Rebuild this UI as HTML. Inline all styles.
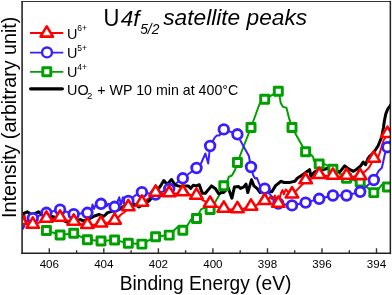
<!DOCTYPE html><html><head><meta charset="utf-8"><style>html,body{margin:0;padding:0;background:#fff;overflow:hidden}svg{display:block;will-change:transform}text{font-family:"Liberation Sans",sans-serif}</style></head><body>
<svg width="392" height="295" viewBox="0 0 392 295">
<defs><clipPath id="c"><rect x="22" y="1.4" width="368.3" height="252.2"/></clipPath></defs>
<g clip-path="url(#c)">
<polyline points="46.4,230.4 60.1,235.0 73.7,233.3 87.4,239.8 101.0,240.9 114.6,239.9 128.3,243.3 141.9,244.1 155.6,236.7 169.2,235.1 177.3,227.3 182.8,230.2 186.3,227.3 191.2,219.2 196.5,218.4 201.0,209.4 204.3,207.8 210.1,209.4 215.7,201.2 219.0,195.5 220.9,191.4 223.8,185.8 227.6,180.4 228.9,176.7 231.9,175.5 235.0,170.0 237.4,162.5 251.0,127.5 259.5,104.0 264.7,99.3 278.3,91.3 279.7,96.3 280.7,102.9 283.1,106.9 286.4,107.8 288.9,117.6 292.0,127.5 305.6,151.7 311.4,154.9 313.3,157.3 313.9,161.0 319.2,164.0 323.0,163.5 325.5,164.7 328.0,165.8 332.9,169.3 346.5,178.3 360.2,182.0 373.8,192.6 377.0,191.2 381.9,184.7 387.4,187.0 401.1,176.0" fill="none" stroke="#00A000" stroke-width="2.0" stroke-linejoin="round"/>
<polyline points="19.2,225.0 32.8,218.2 46.4,212.8 60.1,209.6 73.7,214.2 87.4,212.8 91.5,210.0 92.5,204.5 94.0,209.0 95.5,205.0 101.0,203.8 106.4,206.3 108.2,203.8 110.6,204.4 114.6,206.8 117.4,202.2 119.2,197.3 121.0,204.7 122.9,197.3 124.7,202.2 127.2,199.8 128.3,201.0 136.0,194.9 141.9,192.2 155.6,194.5 169.2,188.8 182.8,178.3 196.5,168.0 201.0,163.5 205.4,153.5 208.2,163.5 210.1,146.0 214.5,137.9 216.9,135.4 219.5,135.4 223.8,129.4 237.4,134.3 239.8,139.5 244.7,148.5 248.8,155.8 251.0,167.0 253.3,175.5 255.2,178.6 257.0,178.0 258.8,182.9 261.3,188.4 264.7,188.6 278.3,203.5 292.0,205.4 305.6,202.6 319.2,198.8 332.9,195.5 346.5,195.5 360.2,191.8 373.8,180.0 378.6,171.0 381.9,167.8 385.1,153.0 387.4,147.2 401.1,118.0" fill="none" stroke="#3A1EFF" stroke-width="2.0" stroke-linejoin="round"/>
<polyline points="19.2,221.6 24.0,213.0 26.5,224.0 32.8,225.4 46.4,219.3 60.1,218.4 73.7,222.3 87.4,225.6 101.0,224.1 114.6,221.3 121.0,214.5 124.7,212.0 128.3,207.8 141.9,203.3 155.6,193.4 169.2,194.0 182.8,193.0 196.5,196.3 210.1,204.3 223.8,209.3 237.4,209.8 251.0,207.3 264.7,201.6 268.0,201.0 270.0,197.0 272.5,199.5 275.0,195.5 278.3,204.4 281.0,193.0 282.6,190.1 283.8,194.4 285.7,189.5 287.5,191.3 292.0,195.1 305.6,181.0 319.2,175.6 332.9,176.3 346.5,176.5 360.2,176.7 364.3,172.0 368.0,168.8 370.4,165.4 372.2,161.9 373.8,159.3 377.6,157.7 379.4,153.9 383.6,140.3 387.4,134.6" fill="none" stroke="#FF0000" stroke-width="2.0" stroke-linejoin="round"/>
<polyline points="19,213 22,214 27.3,211.8 32,215 38.4,211.8 44,216 50,215.6 53.1,216.8 60,219 67.1,222 69.6,222.5 80.6,219.5 83,221 88,219.5 95.3,215.7 99,214.5 103.9,216.3 107.6,212.6 112.5,211.4 118.6,209.6 124.7,205.9 129.6,204.7 134,204 139,207 146,203 150,200 155,193 160.5,186 163.8,180.5 167.2,184.5 171.5,179.5 175.2,185.1 180.1,186.4 183.3,185.9 188.2,185.9 190.7,188.4 193.1,185.3 196.2,185.9 199.3,184.7 202.3,193.3 205.4,193.3 211.5,185.9 215.2,188.4 218.8,193.9 221.3,192.6 223.3,192.6 228.2,187.7 231.9,198.2 234.4,187.1 238.6,186.5 240.5,188.4 243.5,187.1 246,184.1 247.8,192.6 251.5,179.8 253.9,185.9 257,188.4 260.1,192.6 264,190 271.9,191.7 275.6,185.6 281.1,181.3 284.2,182.5 290,182.4 294.9,181.2 297.3,178.2 302.2,175.1 307.1,171.4 309.6,169.6 310.8,176.3 314.5,172 319.4,170.2 325.5,169 331.3,167 337.5,171.3 339.9,171.9 344.8,165.8 348.5,168.9 353.4,171.3 356.4,169.5 360.7,165.8 363.2,162.1 365.6,164.6 368.1,158.4 369.9,156 372.8,153.3 374.7,151 378,146 381.7,137 383.5,127.2 384.4,120.8 385.8,113.9 387.7,109.2 390.1,105.9 392,103" fill="none" stroke="#000" stroke-width="3" stroke-linejoin="round"/>
<rect x="42.4" y="226.4" width="8.0" height="8.0" fill="#fff" stroke="#00A000" stroke-width="2.95" stroke-linejoin="round"/>
<rect x="56.1" y="231.0" width="8.0" height="8.0" fill="#fff" stroke="#00A000" stroke-width="2.95" stroke-linejoin="round"/>
<rect x="69.7" y="229.3" width="8.0" height="8.0" fill="#fff" stroke="#00A000" stroke-width="2.95" stroke-linejoin="round"/>
<rect x="83.4" y="235.8" width="8.0" height="8.0" fill="#fff" stroke="#00A000" stroke-width="2.95" stroke-linejoin="round"/>
<rect x="97.0" y="236.9" width="8.0" height="8.0" fill="#fff" stroke="#00A000" stroke-width="2.95" stroke-linejoin="round"/>
<rect x="110.6" y="235.9" width="8.0" height="8.0" fill="#fff" stroke="#00A000" stroke-width="2.95" stroke-linejoin="round"/>
<rect x="124.3" y="239.3" width="8.0" height="8.0" fill="#fff" stroke="#00A000" stroke-width="2.95" stroke-linejoin="round"/>
<rect x="137.9" y="240.1" width="8.0" height="8.0" fill="#fff" stroke="#00A000" stroke-width="2.95" stroke-linejoin="round"/>
<rect x="151.6" y="232.7" width="8.0" height="8.0" fill="#fff" stroke="#00A000" stroke-width="2.95" stroke-linejoin="round"/>
<rect x="165.2" y="231.1" width="8.0" height="8.0" fill="#fff" stroke="#00A000" stroke-width="2.95" stroke-linejoin="round"/>
<rect x="178.8" y="226.2" width="8.0" height="8.0" fill="#fff" stroke="#00A000" stroke-width="2.95" stroke-linejoin="round"/>
<rect x="192.5" y="214.4" width="8.0" height="8.0" fill="#fff" stroke="#00A000" stroke-width="2.95" stroke-linejoin="round"/>
<rect x="206.1" y="205.4" width="8.0" height="8.0" fill="#fff" stroke="#00A000" stroke-width="2.95" stroke-linejoin="round"/>
<rect x="219.8" y="181.8" width="8.0" height="8.0" fill="#fff" stroke="#00A000" stroke-width="2.95" stroke-linejoin="round"/>
<rect x="233.4" y="158.5" width="8.0" height="8.0" fill="#fff" stroke="#00A000" stroke-width="2.95" stroke-linejoin="round"/>
<rect x="247.0" y="123.5" width="8.0" height="8.0" fill="#fff" stroke="#00A000" stroke-width="2.95" stroke-linejoin="round"/>
<rect x="260.7" y="95.3" width="8.0" height="8.0" fill="#fff" stroke="#00A000" stroke-width="2.95" stroke-linejoin="round"/>
<rect x="274.3" y="87.3" width="8.0" height="8.0" fill="#fff" stroke="#00A000" stroke-width="2.95" stroke-linejoin="round"/>
<rect x="288.0" y="123.5" width="8.0" height="8.0" fill="#fff" stroke="#00A000" stroke-width="2.95" stroke-linejoin="round"/>
<rect x="301.6" y="147.7" width="8.0" height="8.0" fill="#fff" stroke="#00A000" stroke-width="2.95" stroke-linejoin="round"/>
<rect x="315.2" y="160.0" width="8.0" height="8.0" fill="#fff" stroke="#00A000" stroke-width="2.95" stroke-linejoin="round"/>
<rect x="328.9" y="165.3" width="8.0" height="8.0" fill="#fff" stroke="#00A000" stroke-width="2.95" stroke-linejoin="round"/>
<rect x="342.5" y="174.3" width="8.0" height="8.0" fill="#fff" stroke="#00A000" stroke-width="2.95" stroke-linejoin="round"/>
<rect x="356.2" y="178.0" width="8.0" height="8.0" fill="#fff" stroke="#00A000" stroke-width="2.95" stroke-linejoin="round"/>
<rect x="369.8" y="188.6" width="8.0" height="8.0" fill="#fff" stroke="#00A000" stroke-width="2.95" stroke-linejoin="round"/>
<rect x="383.4" y="183.0" width="8.0" height="8.0" fill="#fff" stroke="#00A000" stroke-width="2.95" stroke-linejoin="round"/>
<rect x="397.1" y="172.0" width="8.0" height="8.0" fill="#fff" stroke="#00A000" stroke-width="2.95" stroke-linejoin="round"/>
<circle cx="19.2" cy="225.0" r="4.8" fill="#fff" stroke="#3A1EFF" stroke-width="2.8"/>
<circle cx="32.8" cy="218.2" r="4.8" fill="#fff" stroke="#3A1EFF" stroke-width="2.8"/>
<circle cx="46.4" cy="212.8" r="4.8" fill="#fff" stroke="#3A1EFF" stroke-width="2.8"/>
<circle cx="60.1" cy="209.6" r="4.8" fill="#fff" stroke="#3A1EFF" stroke-width="2.8"/>
<circle cx="73.7" cy="214.2" r="4.8" fill="#fff" stroke="#3A1EFF" stroke-width="2.8"/>
<circle cx="87.4" cy="212.8" r="4.8" fill="#fff" stroke="#3A1EFF" stroke-width="2.8"/>
<circle cx="101.0" cy="203.8" r="4.8" fill="#fff" stroke="#3A1EFF" stroke-width="2.8"/>
<circle cx="114.6" cy="206.8" r="4.8" fill="#fff" stroke="#3A1EFF" stroke-width="2.8"/>
<circle cx="128.3" cy="201.0" r="4.8" fill="#fff" stroke="#3A1EFF" stroke-width="2.8"/>
<circle cx="141.9" cy="192.2" r="4.8" fill="#fff" stroke="#3A1EFF" stroke-width="2.8"/>
<circle cx="155.6" cy="194.5" r="4.8" fill="#fff" stroke="#3A1EFF" stroke-width="2.8"/>
<circle cx="169.2" cy="188.8" r="4.8" fill="#fff" stroke="#3A1EFF" stroke-width="2.8"/>
<circle cx="182.8" cy="178.3" r="4.8" fill="#fff" stroke="#3A1EFF" stroke-width="2.8"/>
<circle cx="196.5" cy="168.0" r="4.8" fill="#fff" stroke="#3A1EFF" stroke-width="2.8"/>
<circle cx="210.1" cy="146.0" r="4.8" fill="#fff" stroke="#3A1EFF" stroke-width="2.8"/>
<circle cx="223.8" cy="129.4" r="4.8" fill="#fff" stroke="#3A1EFF" stroke-width="2.8"/>
<circle cx="237.4" cy="134.3" r="4.8" fill="#fff" stroke="#3A1EFF" stroke-width="2.8"/>
<circle cx="251.0" cy="167.0" r="4.8" fill="#fff" stroke="#3A1EFF" stroke-width="2.8"/>
<circle cx="264.7" cy="188.6" r="4.8" fill="#fff" stroke="#3A1EFF" stroke-width="2.8"/>
<circle cx="278.3" cy="203.5" r="4.8" fill="#fff" stroke="#3A1EFF" stroke-width="2.8"/>
<circle cx="292.0" cy="205.4" r="4.8" fill="#fff" stroke="#3A1EFF" stroke-width="2.8"/>
<circle cx="305.6" cy="202.6" r="4.8" fill="#fff" stroke="#3A1EFF" stroke-width="2.8"/>
<circle cx="319.2" cy="198.8" r="4.8" fill="#fff" stroke="#3A1EFF" stroke-width="2.8"/>
<circle cx="332.9" cy="195.5" r="4.8" fill="#fff" stroke="#3A1EFF" stroke-width="2.8"/>
<circle cx="346.5" cy="195.5" r="4.8" fill="#fff" stroke="#3A1EFF" stroke-width="2.8"/>
<circle cx="360.2" cy="191.8" r="4.8" fill="#fff" stroke="#3A1EFF" stroke-width="2.8"/>
<circle cx="373.8" cy="180.0" r="4.8" fill="#fff" stroke="#3A1EFF" stroke-width="2.8"/>
<circle cx="387.4" cy="147.2" r="4.8" fill="#fff" stroke="#3A1EFF" stroke-width="2.8"/>
<circle cx="401.1" cy="118.0" r="4.8" fill="#fff" stroke="#3A1EFF" stroke-width="2.8"/>
<polygon points="14.8,224.0 21.0,213.7 27.2,224.0" fill="#fff" stroke="#FF0000" stroke-width="2.6" stroke-linejoin="round"/>
<polygon points="26.5,227.8 32.8,217.4 39.0,227.8" fill="#fff" stroke="#FF0000" stroke-width="2.6" stroke-linejoin="round"/>
<polygon points="40.2,221.7 46.4,211.3 52.7,221.7" fill="#fff" stroke="#FF0000" stroke-width="2.6" stroke-linejoin="round"/>
<polygon points="53.8,220.8 60.1,210.4 66.3,220.8" fill="#fff" stroke="#FF0000" stroke-width="2.6" stroke-linejoin="round"/>
<polygon points="67.5,224.7 73.7,214.3 80.0,224.7" fill="#fff" stroke="#FF0000" stroke-width="2.6" stroke-linejoin="round"/>
<polygon points="81.1,228.0 87.4,217.7 93.6,228.0" fill="#fff" stroke="#FF0000" stroke-width="2.6" stroke-linejoin="round"/>
<polygon points="94.8,226.5 101.0,216.2 107.2,226.5" fill="#fff" stroke="#FF0000" stroke-width="2.6" stroke-linejoin="round"/>
<polygon points="108.4,223.7 114.6,213.3 120.9,223.7" fill="#fff" stroke="#FF0000" stroke-width="2.6" stroke-linejoin="round"/>
<polygon points="122.0,210.2 128.3,199.8 134.5,210.2" fill="#fff" stroke="#FF0000" stroke-width="2.6" stroke-linejoin="round"/>
<polygon points="135.7,205.7 141.9,195.3 148.2,205.7" fill="#fff" stroke="#FF0000" stroke-width="2.6" stroke-linejoin="round"/>
<polygon points="149.3,195.8 155.6,185.4 161.8,195.8" fill="#fff" stroke="#FF0000" stroke-width="2.6" stroke-linejoin="round"/>
<polygon points="162.9,196.3 169.2,186.0 175.4,196.3" fill="#fff" stroke="#FF0000" stroke-width="2.6" stroke-linejoin="round"/>
<polygon points="176.6,195.3 182.8,185.0 189.1,195.3" fill="#fff" stroke="#FF0000" stroke-width="2.6" stroke-linejoin="round"/>
<polygon points="190.2,198.7 196.5,188.3 202.7,198.7" fill="#fff" stroke="#FF0000" stroke-width="2.6" stroke-linejoin="round"/>
<polygon points="203.9,206.7 210.1,196.3 216.4,206.7" fill="#fff" stroke="#FF0000" stroke-width="2.6" stroke-linejoin="round"/>
<polygon points="217.5,211.7 223.8,201.3 230.0,211.7" fill="#fff" stroke="#FF0000" stroke-width="2.6" stroke-linejoin="round"/>
<polygon points="231.2,212.2 237.4,201.8 243.7,212.2" fill="#fff" stroke="#FF0000" stroke-width="2.6" stroke-linejoin="round"/>
<polygon points="244.8,209.7 251.0,199.3 257.3,209.7" fill="#fff" stroke="#FF0000" stroke-width="2.6" stroke-linejoin="round"/>
<polygon points="258.4,204.0 264.7,193.7 270.9,204.0" fill="#fff" stroke="#FF0000" stroke-width="2.6" stroke-linejoin="round"/>
<polygon points="272.1,206.8 278.3,196.4 284.6,206.8" fill="#fff" stroke="#FF0000" stroke-width="2.6" stroke-linejoin="round"/>
<polygon points="285.7,197.5 292.0,187.2 298.2,197.5" fill="#fff" stroke="#FF0000" stroke-width="2.6" stroke-linejoin="round"/>
<polygon points="299.4,183.3 305.6,173.0 311.9,183.3" fill="#fff" stroke="#FF0000" stroke-width="2.6" stroke-linejoin="round"/>
<polygon points="313.0,178.0 319.2,167.7 325.5,178.0" fill="#fff" stroke="#FF0000" stroke-width="2.6" stroke-linejoin="round"/>
<polygon points="326.6,178.7 332.9,168.3 339.1,178.7" fill="#fff" stroke="#FF0000" stroke-width="2.6" stroke-linejoin="round"/>
<polygon points="340.3,178.8 346.5,168.5 352.8,178.8" fill="#fff" stroke="#FF0000" stroke-width="2.6" stroke-linejoin="round"/>
<polygon points="353.9,179.1 360.2,168.8 366.4,179.1" fill="#fff" stroke="#FF0000" stroke-width="2.6" stroke-linejoin="round"/>
<polygon points="367.6,161.7 373.8,151.3 380.1,161.7" fill="#fff" stroke="#FF0000" stroke-width="2.6" stroke-linejoin="round"/>
<polygon points="381.2,137.0 387.4,126.7 393.7,137.0" fill="#fff" stroke="#FF0000" stroke-width="2.6" stroke-linejoin="round"/>
</g>
<path d="M22.1,254.1 V0.9" fill="none" stroke="#333" stroke-width="1.7"/>
<path d="M21.3,1.45 H391" fill="none" stroke="#333" stroke-width="1.05"/>
<path d="M390.35,0.9 V254.1" fill="none" stroke="#222" stroke-width="1.5"/>
<path d="M21.3,253.25 H391.1" fill="none" stroke="#222" stroke-width="1.55"/>
<text x="49.3" y="268.1" font-size="11.6" text-anchor="middle" fill="#000">406</text>
<text x="103.8" y="268.1" font-size="11.6" text-anchor="middle" fill="#000">404</text>
<text x="158.4" y="268.1" font-size="11.6" text-anchor="middle" fill="#000">402</text>
<text x="212.9" y="268.1" font-size="11.6" text-anchor="middle" fill="#000">400</text>
<text x="267.5" y="268.1" font-size="11.6" text-anchor="middle" fill="#000">398</text>
<text x="322.0" y="268.1" font-size="11.6" text-anchor="middle" fill="#000">396</text>
<text x="376.5" y="268.1" font-size="11.6" text-anchor="middle" fill="#000">394</text>
<path d="M49.3,253 V248.3 M76.6,253 V250.3 M103.8,253 V248.3 M131.1,253 V250.3 M158.4,253 V248.3 M185.6,253 V250.3 M212.9,253 V248.3 M240.2,253 V250.3 M267.5,253 V248.3 M294.7,253 V250.3 M322.0,253 V248.3 M349.3,253 V250.3 M376.5,253 V248.3" stroke="#333" stroke-width="1.4"/>
<text x="205.6" y="289.9" font-size="19.5" text-anchor="middle" textLength="171.8" lengthAdjust="spacingAndGlyphs" fill="#000">Binding Energy (eV)</text>
<text transform="translate(15.7,117.3) rotate(-90)" font-size="19.7" text-anchor="middle" fill="#000">Intensity (arbitrary unit)</text>
<text x="103.5" y="25.6" font-size="23.8" textLength="15.9" lengthAdjust="spacingAndGlyphs" fill="#000">U</text>
<text x="120.8" y="25.5" font-size="22.6" font-style="italic" fill="#000">4f</text>
<text x="140.2" y="33.5" font-size="13.8" font-style="italic" fill="#000">5/2</text>
<text x="163.2" y="25.4" font-size="22.6" font-style="italic" fill="#000" textLength="144" lengthAdjust="spacingAndGlyphs">satellite peaks</text>
<path d="M30,33.0 H63.3" stroke="#FF0000" stroke-width="1.8"/>
<polygon points="40.5,36.6 46.7,26.4 53.0,36.6" fill="#fff" stroke="#FF0000" stroke-width="2.6" stroke-linejoin="round"/>
<text x="66.9" y="38.5" font-size="14.4" fill="#000">U<tspan font-size="8.5" dy="-7.2">6+</tspan></text>
<path d="M30,52.6 H63.3" stroke="#3A1EFF" stroke-width="1.8"/>
<circle cx="47.0" cy="52.4" r="4.95" fill="#fff" stroke="#3A1EFF" stroke-width="2.4"/>
<text x="66.9" y="58.1" font-size="14.4" fill="#000">U<tspan font-size="8.5" dy="-7.2">5+</tspan></text>
<path d="M30,71.8 H63.3" stroke="#00A000" stroke-width="1.8"/>
<rect x="42.8" y="67.8" width="8.0" height="8.0" fill="#fff" stroke="#00A000" stroke-width="2.95" stroke-linejoin="round"/>
<text x="66.9" y="77.3" font-size="14.4" fill="#000">U<tspan font-size="8.5" dy="-7.2">4+</tspan></text>
<path d="M30.6,88.8 H62.4" stroke="#000" stroke-width="3.2" stroke-linecap="round"/>
<text x="67.0" y="94.5" font-size="14.4" fill="#000">UO</text><text x="87.0" y="98.8" font-size="9.6" fill="#000">2</text><text x="97.3" y="94.5" font-size="14.4" textLength="141" lengthAdjust="spacingAndGlyphs" fill="#000">+ WP 10 min at 400°C</text>
</svg></body></html>
